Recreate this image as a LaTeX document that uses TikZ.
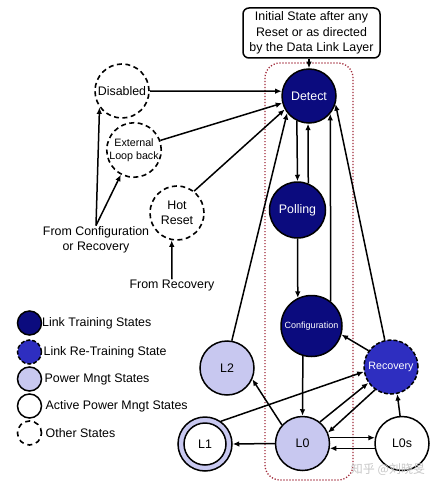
\documentclass[tikz,border=0pt]{standalone}
\usepackage{fontspec}
\setmainfont{Liberation Sans}
\newfontfamily\cjk{Noto Sans CJK SC}
\usetikzlibrary{arrows.meta,calc}
\definecolor{lt}{HTML}{0B0B7E}
\definecolor{rt}{HTML}{2E2EC0}
\definecolor{pm}{HTML}{C8C8F0}
\definecolor{dotred}{HTML}{A02838}
\begin{document}
\begin{tikzpicture}[x=1pt,y=-1pt,
  font=\fontsize{12.4}{14}\selectfont,
  st/.style={circle, draw=black, line width=1.5pt, minimum size=54pt, inner sep=0pt, align=center},
  train/.style={st, fill=lt, text=white},
  retrain/.style={st, fill=rt, text=white, dash pattern=on 4pt off 2pt},
  pwr/.style={st, fill=pm},
  other/.style={st, dash pattern=on 5pt off 3.5pt, line width=1.6pt},
  arr/.style={line width=1.5pt, -{Latex[length=6.5pt,width=5.5pt]}},
  lgc/.style={circle, draw=black, line width=1.5pt, minimum size=24pt, inner sep=0pt},
  lgt/.style={anchor=west, inner sep=0pt},
  ]
\useasboundingbox (0,0) rectangle (440,492);

% dotted group
\draw[dotred, line width=1.3pt, dash pattern=on 1.2pt off 1.8pt, rounded corners=15pt] (265,63) rectangle (353,480);

% initial box
\node[draw, line width=1.5pt, rounded corners=6pt, minimum width=137pt, minimum height=50pt, align=center, inner sep=1pt,
  font=\fontsize{12.4}{15.5}\selectfont] (init) at (311.5,33) {Initial State after any\\Reset or as directed\\by the Data Link Layer};

% states
\node[train] (detect) at (309,96) {Detect};
\node[train, minimum size=56pt] (polling) at (297.5,210) {Polling};
\node[train, minimum size=61pt, font=\fontsize{9}{11}\selectfont] (config) at (311.5,326) {Configuration};
\node[retrain, font=\fontsize{10.7}{12}\selectfont] (recovery) at (391,367) {Recovery};
\node[pwr] (l2) at (227,368) {L2};
\node[pwr] (l1) at (205,444) {};
\node[circle, draw=black, line width=1.5pt, fill=white, minimum size=42pt, inner sep=0pt] (l1in) at (l1) {L1};
\node[pwr] (l0) at (302.5,443.5) {L0};
\node[st, fill=white] (l0s) at (402,443.5) {L0s};
\node[other] (disabled) at (122,91) {Disabled};
\node[other, font=\fontsize{10.7}{13.3}\selectfont] (ext) at (134,150) {External\\Loop back};
\node[other, font=\fontsize{12.4}{15.5}\selectfont] (hot) at (177,213) {Hot\\Reset};

\node[align=center, inner sep=1pt, font=\fontsize{12.4}{15}\selectfont] (fc) at (96,240) {From Configuration\\or Recovery};
\node[inner sep=1pt] (fr) at (172,286) {From Recovery};

% connectors
\draw[arr] (init.south -| detect) -- (detect.north);
\draw[arr] (disabled.east) -- (detect.170);
\draw[arr] (ext.20) -- (detect.195);
\draw[arr] (hot.52) -- (detect.209);
\draw[arr] (fc.north) -- (disabled.216);
\draw[arr] (fc.north) -- (ext.242);
\draw[arr] (fr.north) -- (hot.259);

\draw[arr] (detect.244) -- (polling.north);
\draw[arr] (polling.68) -- (detect.268);
\draw[arr] (polling.south) -- (config.116);
\draw[arr] (config.52) -- (detect.320);
\draw[arr] (l2.80) -- (detect.218);
\draw[arr] (recovery.103) -- (detect.343);
\draw[arr] (recovery.144) -- (config.344);
\draw[arr] (config.254) -- (l0.north);
\draw[arr] (l0.138) -- (l2.336);
\draw[arr] (l1.55) -- (recovery.190);
\draw[arr] (l0.51) -- (recovery.215);
\draw[arr] (recovery.235) -- (l0.23);
\draw[arr] (l0.west) -- (l1.east);
\draw[arr] (l0.12) -- (l0s.168);
\draw[arr] (l0s.190) -- (l0.350);
\draw[arr] (l0s.94) -- (recovery.283);

% legend
\node[lgc, fill=lt] (g1) at (29.5,323) {};
\node[lgc, fill=rt, dash pattern=on 4pt off 2pt] (g2) at (29.5,352) {};
\node[lgc, fill=pm] (g3) at (29.5,379) {};
\node[lgc, fill=white] (g4) at (29.5,406) {};
\node[lgc, dash pattern=on 5pt off 4pt, line width=1.6pt] (g5) at (29.5,433) {};
\node[lgt] (t1) at (42,323) {Link Training States};
\node[lgt] (t2) at (43.5,352) {Link Re-Training State};
\node[lgt] (t3) at (44.5,379) {Power Mngt States};
\node[lgt] (t4) at (45.5,406) {Active Power Mngt States};
\node[lgt] (t5) at (45.5,433) {Other States};

% watermark
\node[text=black!22, font=\cjk\fontsize{12}{14}\selectfont, inner sep=0pt] (wm) at (388,469) {知乎 @刘晓旻};
\end{tikzpicture}
\end{document}
